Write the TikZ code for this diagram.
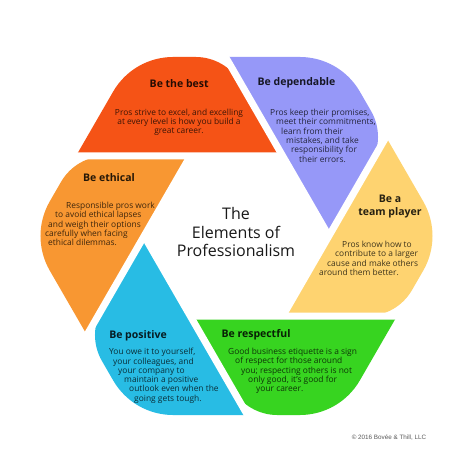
\documentclass[tikz,border=0pt]{standalone}
\usepackage{fontspec}
\setmainfont{Open Sans}
\newfontfamily\crfont{Liberation Sans}
\usetikzlibrary{calc}
\definecolor{cRed}{RGB}{245,83,22}
\definecolor{cOrange}{RGB}{248,151,50}
\definecolor{cPurple}{RGB}{150,152,248}
\definecolor{cYellow}{RGB}{254,211,112}
\definecolor{cGreen}{RGB}{55,212,32}
\definecolor{cBlue}{RGB}{40,188,228}
\newcommand{\hexpiece}[5]{%
  \fill[#1] (#2) -- (#3) -- ($(#4)!40pt!(#3)$) .. controls ($(#4)!15.2pt!(#3)$) and ($(#4)!15.2pt!(#5)$) .. ($(#4)!40pt!(#5)$) -- ($(#5)!30pt!(#4)$) .. controls ($(#5)!11.4pt!(#4)$) and ($(#5)!11.4pt!(#2)$) .. ($(#5)!30pt!(#2)$) -- cycle;}
\begin{document}
\begin{tikzpicture}[x=1pt,y=1pt,
  gapline/.style={white, line width=7pt},
  ttl/.style={font=\bfseries\fontsize{10.5}{13}\selectfont, inner sep=0pt},
  bdy/.style={font=\fontsize{8.4}{9.3}\selectfont, inner sep=0pt, align=left, anchor=north west}]
\useasboundingbox (-236.5,-238) rectangle (237.5,236);
\fill[white] (-236.5,-238) rectangle (237.5,236);
\foreach \a in {0,60,120,180,240,300} {
  \coordinate (O\a) at (\a:206.7);
  \coordinate (I\a) at (\a:92.38);
}
\coordinate (P60) at (intersection of I0--I60 and O120--O60);
\coordinate (P0) at (intersection of I300--I0 and O60--O0);
\coordinate (P300) at (intersection of I240--I300 and O0--O300);
\coordinate (P240) at (intersection of I180--I240 and O300--O240);
\coordinate (P180) at (intersection of I120--I180 and O240--O180);
\coordinate (P120) at (intersection of I60--I120 and O180--O120);
\hexpiece{cRed}{I60}{P120}{O120}{P60}
\hexpiece{cPurple}{I0}{P60}{O60}{P0}
\hexpiece{cYellow}{I300}{P0}{O0}{P300}
\hexpiece{cGreen}{I240}{P300}{O300}{P240}
\hexpiece{cBlue}{I180}{P240}{O240}{P180}
\hexpiece{cOrange}{I120}{P180}{O180}{P120}
\foreach \a/\b in {60/120, 0/60, 300/0, 240/300, 180/240, 120/180}
  \draw[gapline] (I\a) -- ($(P\b)!-12pt!(I\a)$);
% red
\node[ttl, text=cRed!15!black] (tBest) at (-57.3,152.7) {Be the best};
\node[bdy, align=center, anchor=north, text=cRed!25!black] (bBest) at (-57.5,127.2) {Pros strive to excel, and excelling\\at every level is how you build a\\great career.};
% purple
\node[ttl, text=cPurple!15!black] (tDep) at (60,153) {Be dependable};
\node[bdy, text=cPurple!25!black] (bDep) at (33.5,126.9) {Pros keep their promises,\\\hspace*{6pt}meet their commitments,\\\hspace*{11pt}learn from their\\\hspace*{16pt}mistakes, and take\\\hspace*{21pt}responsibility for\\\hspace*{29pt}their errors.};
% yellow
\node[ttl, align=center, anchor=north, text=cYellow!15!black] (tTeam) at (153.5,40.8) {Be a\\team player};
\node[bdy, text=cYellow!25!black] (bTeam) at (82.5,-5.1) {\hspace*{23pt}Pros know how to\\\hspace*{16pt}contribute to a larger\\\hspace*{8pt}cause and make others\\around them better.};
% orange
\node[ttl, text=cOrange!15!black] (tEth) at (-127.5,58) {Be ethical};
\node[bdy, text=cOrange!25!black] (bEth) at (-191.5,33.9) {\hspace*{21pt}Responsible pros work\\\hspace*{10pt}to avoid ethical lapses\\\hspace*{3pt}and weigh their options\\carefully when facing\\\hspace*{3pt}ethical dilemmas.};
% blue
\node[ttl, text=cBlue!15!black] (tPos) at (-98.5,-100) {Be positive};
\node[bdy, text=cBlue!25!black] (bPos) at (-127.5,-112.1) {You owe it to yourself,\\\hspace*{4pt}your colleagues, and\\\hspace*{9pt}your company to\\\hspace*{15pt}maintain a positive\\\hspace*{20pt}outlook even when the\\\hspace*{25pt}going gets tough.};
% green
\node[ttl, text=cGreen!15!black] (tResp) at (19.5,-99) {Be respectful};
\node[bdy, text=cGreen!25!black] (bResp) at (-8.5,-112.1) {Good business etiquette is a sign\\\hspace*{7pt}of respect for those around\\\hspace*{13pt}you; respecting others is not\\\hspace*{20pt}only good, it’s good for\\\hspace*{28pt}your career.};
% centre
\node[font=\fontsize{16}{18.5}\selectfont, align=center, anchor=north, inner sep=0pt, text=black!90] (ctr) at (-0.5,28.7) {The\\Elements of\\Professionalism};
\node[font=\crfont\fontsize{6.3}{7}\selectfont, text=black!65, inner sep=0pt] (copy) at (152.5,-202) {© 2016 Bovée \& Thill, LLC};
\end{tikzpicture}
\end{document}
